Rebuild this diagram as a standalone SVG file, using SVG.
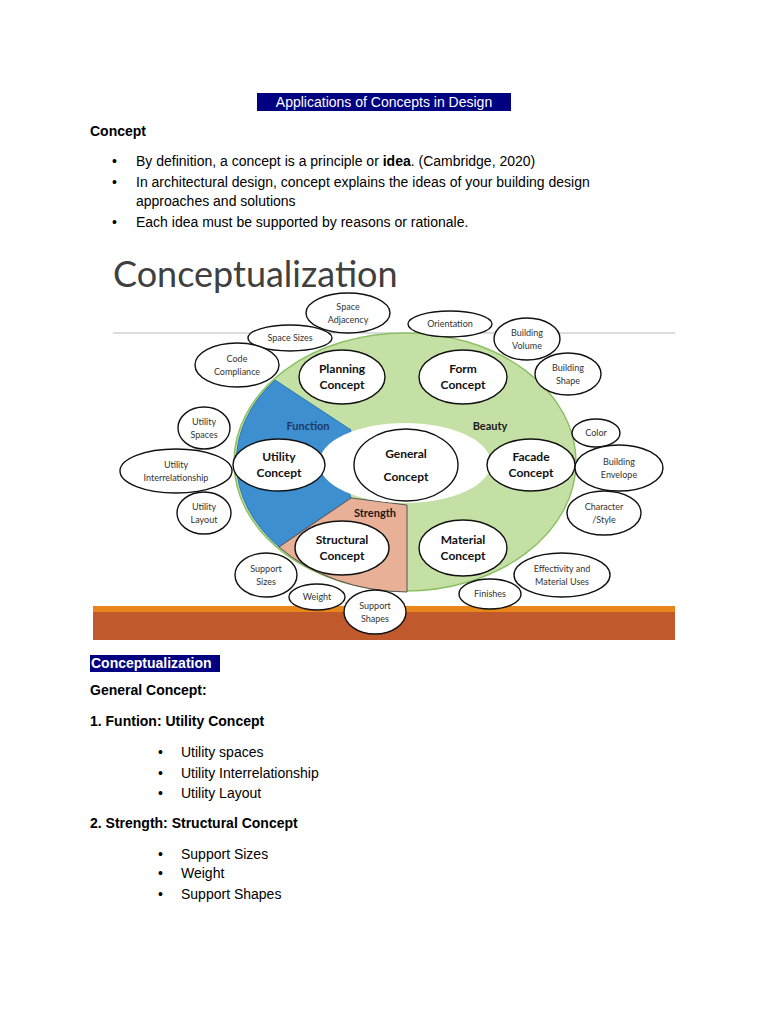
<svg xmlns="http://www.w3.org/2000/svg" width="768" height="1024" viewBox="0 0 768 1024">
<style>
.doc{font-family:"Liberation Sans",Arial,sans-serif;font-size:14px;fill:#000}
.b{font-weight:bold}
.hl{fill:#000080}
.hlt{fill:#fff}
.node ellipse{fill:#fff;stroke:#111;stroke-width:1.4}
.sm{font-family:Lato,"Open Sans",sans-serif;font-size:9px;fill:#333;text-anchor:middle}
.cc{font-family:Lato,"Open Sans",sans-serif;font-size:12px;font-weight:bold;fill:#111;text-anchor:middle}
.lab{font-family:Lato,"Open Sans",sans-serif;font-size:11px;font-weight:bold;text-anchor:middle}
</style>
<rect width="768" height="1024" fill="#fff"/>
<rect class="hl" x="257" y="93" width="254" height="18"/>
<text class="doc hlt" x="384" y="107" text-anchor="middle">Applications of Concepts in Design</text>
<text class="doc b" x="90" y="136">Concept</text>
<g class="doc">
<text x="112" y="166">•</text><text x="136" y="166">By definition, a concept is a principle or <tspan class="b">idea</tspan>. (Cambridge, 2020)</text>
<text x="112" y="187">•</text><text x="136" y="187">In architectural design, concept explains the ideas of your building design</text>
<text x="136" y="206">approaches and solutions</text>
<text x="112" y="227">•</text><text x="136" y="227">Each idea must be supported by reasons or rationale.</text>
</g>
<text x="113" y="287" font-family="Lato,'Open Sans',sans-serif" font-size="36" fill="#404040">Conceptualization</text>
<line x1="113" y1="333" x2="675" y2="333" stroke="#bbb" stroke-width="1"/>
<rect x="93" y="606" width="582" height="6" fill="#e8861a"/>
<rect x="93" y="612" width="582" height="28" fill="#c0592c"/>
<g id="ring">
<ellipse cx="405" cy="462" rx="171" ry="129" fill="#c5e0a5" stroke="#8cc063" stroke-width="1.5"/>
<path d="M275,380 L351,430 L340,465 L351,498 L279,547 A171 129 0 0 1 275,380 Z" fill="#3d8fd0" stroke="#2e75b6" stroke-width="1"/>
<path d="M351,498 L407,505 L407,592 A171 129 0 0 1 279,547 Z" fill="#e8b097" stroke="#555" stroke-width="1"/>
<ellipse cx="405" cy="463" rx="86" ry="40" fill="#fff"/>
<text class="lab" x="308" y="430" fill="#1f3864">Function</text>
<text class="lab" x="490" y="430" fill="#1a1a1a">Beauty</text>
<text class="lab" x="375" y="517" fill="#1a1a1a">Strength</text>
</g>
<g id="planning" class="node"><ellipse cx="342" cy="377" rx="43" ry="27"/><text class="cc" x="342" y="373">Planning</text><text class="cc" x="342" y="389">Concept</text></g>
<g id="form" class="node"><ellipse cx="463" cy="377" rx="44" ry="27"/><text class="cc" x="463" y="373">Form</text><text class="cc" x="463" y="389">Concept</text></g>
<g id="utility" class="node"><ellipse cx="279" cy="465" rx="46" ry="26"/><text class="cc" x="279" y="461">Utility</text><text class="cc" x="279" y="477">Concept</text></g>
<g id="general" class="node"><ellipse cx="406" cy="465" rx="52" ry="36"/><text class="cc" x="406" y="458" font-size="16">General</text><text class="cc" x="406" y="481" font-size="16">Concept</text></g>
<g id="facade" class="node"><ellipse cx="531" cy="465" rx="44" ry="26"/><text class="cc" x="531" y="461">Facade</text><text class="cc" x="531" y="477">Concept</text></g>
<g id="structural" class="node"><ellipse cx="342" cy="548" rx="47" ry="27"/><text class="cc" x="342" y="544">Structural</text><text class="cc" x="342" y="560">Concept</text></g>
<g id="material" class="node"><ellipse cx="463" cy="548" rx="44" ry="28"/><text class="cc" x="463" y="544">Material</text><text class="cc" x="463" y="560">Concept</text></g>
<g id="spaceadj" class="node"><ellipse cx="348" cy="313" rx="42" ry="20"/><text class="sm" x="348" y="310">Space</text><text class="sm" x="348" y="323">Adjacency</text></g>
<g id="orientation" class="node"><ellipse cx="450" cy="324" rx="42" ry="13"/><text class="sm" x="450" y="327">Orientation</text></g>
<g id="bvolume" class="node"><ellipse cx="527" cy="339" rx="33" ry="21"/><text class="sm" x="527" y="336">Building</text><text class="sm" x="527" y="349">Volume</text></g>
<g id="spacesizes" class="node"><ellipse cx="290" cy="338" rx="42" ry="13"/><text class="sm" x="290" y="341">Space Sizes</text></g>
<g id="code" class="node"><ellipse cx="237" cy="365" rx="42" ry="22"/><text class="sm" x="237" y="362">Code</text><text class="sm" x="237" y="375">Compliance</text></g>
<g id="bshape" class="node"><ellipse cx="568" cy="374" rx="33" ry="21"/><text class="sm" x="568" y="371">Building</text><text class="sm" x="568" y="384">Shape</text></g>
<g id="uspaces" class="node"><ellipse cx="204" cy="428" rx="26" ry="21"/><text class="sm" x="204" y="425">Utility</text><text class="sm" x="204" y="438">Spaces</text></g>
<g id="uinter" class="node"><ellipse cx="176" cy="471" rx="56" ry="22"/><text class="sm" x="176" y="468">Utility</text><text class="sm" x="176" y="481">Interrelationship</text></g>
<g id="ulayout" class="node"><ellipse cx="204" cy="513" rx="27" ry="21"/><text class="sm" x="204" y="510">Utility</text><text class="sm" x="204" y="523">Layout</text></g>
<g id="color" class="node"><ellipse cx="596" cy="433" rx="24" ry="14"/><text class="sm" x="596" y="436">Color</text></g>
<g id="benvelope" class="node"><ellipse cx="619" cy="468" rx="44" ry="23"/><text class="sm" x="619" y="465">Building</text><text class="sm" x="619" y="478">Envelope</text></g>
<g id="character" class="node"><ellipse cx="604" cy="513" rx="37" ry="22"/><text class="sm" x="604" y="510">Character</text><text class="sm" x="604" y="523">/Style</text></g>
<g id="ssizes" class="node"><ellipse cx="266" cy="575" rx="31" ry="22"/><text class="sm" x="266" y="572">Support</text><text class="sm" x="266" y="585">Sizes</text></g>
<g id="weight" class="node"><ellipse cx="317" cy="597" rx="28" ry="13"/><text class="sm" x="317" y="600">Weight</text></g>
<g id="sshapes" class="node"><ellipse cx="375" cy="612" rx="31" ry="22"/><text class="sm" x="375" y="609">Support</text><text class="sm" x="375" y="622">Shapes</text></g>
<g id="finishes" class="node"><ellipse cx="490" cy="594" rx="31" ry="15"/><text class="sm" x="490" y="597">Finishes</text></g>
<g id="effectivity" class="node"><ellipse cx="562" cy="575" rx="48" ry="22"/><text class="sm" x="562" y="572">Effectivity and</text><text class="sm" x="562" y="585">Material Uses</text></g>
<g id="connectors"></g>
<rect class="hl" x="90" y="655" width="130" height="17"/>
<text class="doc b hlt" x="91" y="668">Conceptualization</text>
<g class="doc">
<text class="b" x="90" y="695">General Concept:</text>
<text class="b" x="90" y="726">1. Funtion: Utility Concept</text>
<text x="158" y="757">•</text><text x="181" y="757">Utility spaces</text>
<text x="158" y="778">•</text><text x="181" y="778">Utility Interrelationship</text>
<text x="158" y="798">•</text><text x="181" y="798">Utility Layout</text>
<text class="b" x="90" y="828">2. Strength: Structural Concept</text>
<text x="158" y="859">•</text><text x="181" y="859">Support Sizes</text>
<text x="158" y="878">•</text><text x="181" y="878">Weight</text>
<text x="158" y="899">•</text><text x="181" y="899">Support Shapes</text>
</g>
</svg>
